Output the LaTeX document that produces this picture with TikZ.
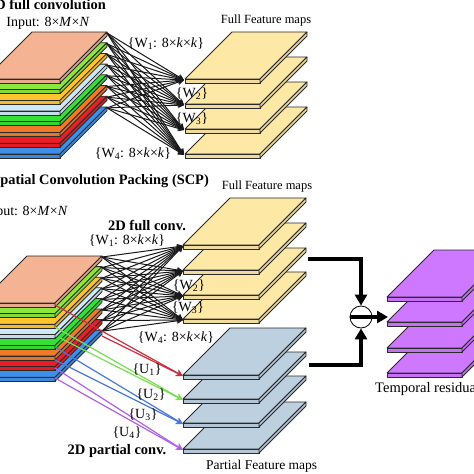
\documentclass[tikz,border=0pt]{standalone}
\usepackage{fontspec}
\setmainfont{Liberation Serif}
\usetikzlibrary{arrows.meta}
\definecolor{peach}{HTML}{F4B393}
\definecolor{lgreen}{HTML}{8CE63C}
\definecolor{gold}{HTML}{FFC42E}
\definecolor{lblue}{HTML}{CDE9F5}
\definecolor{bgreen}{HTML}{35E035}
\definecolor{orng}{HTML}{F07A28}
\definecolor{rd}{HTML}{EE1C25}
\definecolor{blu}{HTML}{3F8FE8}
\definecolor{yel}{HTML}{FDE8A6}
\definecolor{slate}{HTML}{BDD0E0}
\definecolor{purp}{HTML}{CE78FF}
\definecolor{arrred}{HTML}{CC3040}
\definecolor{arrgreen}{HTML}{7ADF50}
\definecolor{arrblue}{HTML}{4A78D8}
\definecolor{arrpurp}{HTML}{B060E8}
\definecolor{edge}{HTML}{2A2A2A}
\tikzset{
  x=1pt,y=-1pt,
  plate/.style={draw=edge,line width=0.8pt,line join=round},
  lab/.style={font=\fontsize{14}{16}\selectfont,inner sep=0pt},
  caplab/.style={font=\fontsize{12.5}{14}\selectfont,inner sep=0pt},
  head/.style={font=\fontsize{14.4}{16}\selectfont\bfseries,inner sep=0pt},
  sub/.style={font=\fontsize{14.5}{16}\selectfont\bfseries,inner sep=0pt},
  conn/.style={line width=1pt,black!90,-{Stealth[length=6pt,width=6pt]}},
  cconn/.style={line width=1.2pt,-{Stealth[length=7pt,width=7pt]}},
  fat/.style={line width=3.6pt,black,-{Triangle[length=11pt,width=12pt]}},
}
% #1 x of front-left, #2 x of front-right, #3 y of top face front edge, #4 rise (=run), #5 colour
\newcommand{\plateat}[5]{%
  \path[plate,fill=#5] (#1,#3) -- (#1+#4,#3-#4) -- (#2+#4,#3-#4) -- (#2,#3) -- cycle;
  \path[plate,fill=#5!95!black] (#1,#3) rectangle (#2,#3+4);
  \path[plate,fill=#5!92!black] (#2,#3) -- (#2+#4,#3-#4) -- (#2+#4,#3-#4+4) -- (#2,#3+4) -- cycle;
}
\begin{document}
\begin{tikzpicture}
\useasboundingbox (0,0) rectangle (474,474);
\clip (0,0) rectangle (474,474);
\fill[white] (0,0) rectangle (474,474);

% top stack
\foreach \i/\c in {7/blu,6/rd,5/orng,4/bgreen,3/lblue,2/gold,1/lgreen,0/peach}{
  \plateat{-15}{60}{79+10.7*\i}{47}{\c}
}
% top feature maps
\foreach \i/\yy in {3/154,2/129,1/104,0/79}{ \plateat{185}{260}{\yy}{47}{yel} }
\foreach \j/\yy in {0/79,1/104,2/129,3/154}{
  \coordinate (ta\j) at (184,\yy+1);
}
\foreach \i in {0,...,7}{
  \coordinate (ts\i) at (107,33+10.7*\i);
  \foreach \j in {0,1,2,3}{ \draw[conn] (ts\i) -- (ta\j); }
}
\node[head,anchor=east] at (106,5) {2D full convolution};
\node[lab] at (48,23) {Input: 8×\textit{M}×\textit{N}};
\node[lab] at (166,44) {\{W\textsubscript{1}: 8×\textit{k}×\textit{k}\}};
\node[lab] at (192,94) {\{W\textsubscript{2}\}};
\node[lab] at (192,119) {\{W\textsubscript{3}\}};
\node[lab] at (133,154) {\{W\textsubscript{4}: 8×\textit{k}×\textit{k}\}};
\node[caplab] at (266,20) {Full Feature maps};

% section 2
\node[head,anchor=east] at (209,181) {Spatial Convolution Packing (SCP)};
\node[caplab] at (267,186) {Full Feature maps};
\node[lab,anchor=east] at (68,212) {Input: 8×\textit{M}×\textit{N}};
\node[sub] at (147,225) {2D full conv.};

\foreach \i/\c in {7/blu,6/rd,5/orng,4/bgreen,3/lblue,2/gold,1/lgreen,0/peach}{
  \plateat{-20}{55}{303+10.6*\i}{47}{\c}
}
\foreach \yy in {319,295,270,245}{ \plateat{183}{259}{\yy}{47}{yel} }
\foreach \yy in {449,423,399,375}{ \plateat{183}{259}{\yy}{47}{slate} }
\foreach \j/\yy in {0/245,1/270,2/295,3/319}{
  \coordinate (fa\j) at (183,\yy+1);
}
\foreach \i in {0,...,7}{
  \coordinate (fs\i) at (102,257+10.6*\i);
  \foreach \j in {0,1,2,3}{ \draw[conn] (fs\i) -- (fa\j); }
}
\node[lab] at (127,241) {\{W\textsubscript{1}: 8×\textit{k}×\textit{k}\}};
\node[lab] at (189,286) {\{W\textsubscript{2}\}};
\node[lab] at (188,308) {\{W\textsubscript{3}\}};
\node[lab] at (176,338) {\{W\textsubscript{4}: 8×\textit{k}×\textit{k}\}};

% coloured connectors
\coordinate (p0) at (183,376);
\coordinate (p1) at (183,400);
\coordinate (p2) at (183,424);
\coordinate (p3) at (183,450);
\coordinate (r1) at (55,305);
\coordinate (r2) at (102,336);
\coordinate (g1) at (55,327);
\coordinate (g2) at (60,338);
\coordinate (b1) at (55,347);
\coordinate (b2) at (55,360);
\coordinate (v1) at (55,368);
\coordinate (v2) at (55,378);
\draw[cconn,arrred] (r1) -- (p0);
\draw[cconn,arrred] (r2) -- (p0);
\draw[cconn,arrgreen] (g1) -- (p1);
\draw[cconn,arrgreen] (g2) -- (p1);
\draw[cconn,arrblue] (b1) -- (p2);
\draw[cconn,arrblue] (b2) -- (p2);
\draw[cconn,arrpurp] (v1) -- (p3);
\draw[cconn,arrpurp] (v2) -- (p3);
\node[lab] at (147,370) {\{U\textsubscript{1}\}};
\node[lab] at (151,395) {\{U\textsubscript{2}\}};
\node[lab] at (143,415) {\{U\textsubscript{3}\}};
\node[lab] at (127,433) {\{U\textsubscript{4}\}};
\node[sub] at (117,451) {2D partial conv.};
\node[font=\fontsize{13.5}{15}\selectfont,inner sep=0pt,anchor=west] at (206,466) {Partial Feature maps};

% residual
\foreach \yy in {373,348,322,297}{ \plateat{387}{462}{\yy}{47}{purp} }
\node[font=\fontsize{14.5}{16}\selectfont,inner sep=0pt,anchor=west] at (375,389) {Temporal residuals};
\node[circle,draw=black,line width=0.8pt,fill=white,minimum size=22pt,inner sep=0pt] (m) at (361,317) {};
\fill[black] (350,315) rectangle (372,319);
\coordinate (u) at (308,259);
\coordinate (l) at (309,365);
\coordinate (o) at (388,317);
\draw[fat] (u) -| (m.north);
\draw[fat] (l) -| (m.south);
\draw[fat] (m.east) -- (o);
\end{tikzpicture}
\end{document}
